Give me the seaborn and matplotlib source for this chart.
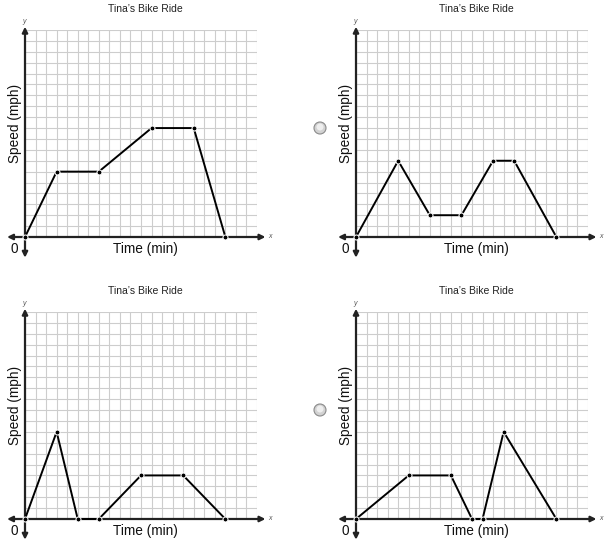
import matplotlib
matplotlib.use("Agg")
from matplotlib import pyplot as plt
from matplotlib.patches import Ellipse
import seaborn as sns
import pandas as pd

sns.set_style("white")
plt.rcParams['font.family'] = ['Liberation Sans', 'DejaVu Sans']

# time (min) and speed (mph) of each graph, in grid units
time_a = [0, 3, 7, 12, 16, 19]
speed_a = [0, 6, 6, 10, 10, 0]
time_b = [0, 4, 7, 10, 13, 15, 19]
speed_b = [0, 7, 2, 2, 7, 7, 0]
time_c = [0, 3, 5, 7, 11, 15, 19]
speed_c = [0, 8, 0, 0, 4, 4, 0]
time_d = [0, 5, 9, 11, 12, 14, 19]
speed_d = [0, 4, 4, 0, 0, 8, 0]

title = "Tina\u2019s Bike Ride"
xlabel = "Time (min)"
ylabel = "Speed (mph)"
n_x, n_y = 22, 19

W, H = 605, 544
fig = plt.figure(figsize=(W / 100, H / 100), dpi=100)

# left edge and x-axis row of each panel, in pixels from the top left
panels = [
    (25, 237, time_a, speed_a, False),
    (356, 237, time_b, speed_b, True),
    (25, 519, time_c, speed_c, False),
    (356, 519, time_d, speed_d, True),
]
gw, gh = 232, 207

for left, base, t, s, radio in panels:
    ax = fig.add_axes([left / W, (H - base) / H, gw / W, gh / H])
    ax.set_xticks(range(n_x + 1))
    ax.set_yticks(range(n_y + 1))
    ax.tick_params(length=0, labelbottom=False, labelleft=False)
    ax.grid(True, color="#cdcdcd", linewidth=0.8)
    for side in ["top", "right", "left", "bottom"]:
        ax.spines[side].set_visible(False)

    # axes with arrow heads
    arrow = dict(arrowstyle="<|-|>", color="#222222", lw=1.6,
                 mutation_scale=8, shrinkA=0, shrinkB=0)
    ax.annotate("", xy=(-1.7, 0), xytext=(22.8, 0), arrowprops=arrow,
                annotation_clip=False, zorder=5)
    ax.annotate("", xy=(0, -1.9), xytext=(0, 19.3), arrowprops=arrow,
                annotation_clip=False, zorder=5)

    df = pd.DataFrame({"time": t, "speed": s})
    sns.lineplot(data=df, x="time", y="speed", ax=ax, color="black",
                 sort=False, estimator=None, marker="o", markersize=3.6,
                 linewidth=1.4, clip_on=False, zorder=6)
    ax.set_xlabel("")
    ax.set_ylabel("")
    ax.set_xlim(0, n_x)
    ax.set_ylim(0, n_y)

    ax.text(n_x / 2 + 0.4, n_y + 1.9, title, ha="center", va="center",
            fontsize=7.5, color="#222222")
    ax.text(11.4, -1.1, xlabel, ha="center", va="center", fontsize=9.8,
            color="#111111")
    ax.text(-0.95, 10.4, ylabel, ha="center", va="center", fontsize=9.8,
            rotation=90, color="#111111")
    ax.text(-1.05, -1.1, "0", ha="center", va="center", fontsize=9.8,
            color="#111111")
    ax.text(-0.05, 19.8, "y", ha="center", va="center", fontsize=5,
            style="italic", color="#555555")
    ax.text(23.2, 0.05, "x", ha="center", va="center", fontsize=5,
            style="italic", color="#555555")

    if radio:
        cy = base - 109
        fig.patches.append(Ellipse((320 / W, (H - cy) / H), 12 / W, 12 / H,
                                   transform=fig.transFigure,
                                   facecolor="#d2d2d2", edgecolor="#8a8a8a",
                                   linewidth=0.8))
        fig.patches.append(Ellipse((320 / W, (H - cy + 1) / H), 7 / W, 7 / H,
                                   transform=fig.transFigure,
                                   facecolor="#eeeeee", edgecolor="none"))

fig.savefig("out.png", dpi=100)
